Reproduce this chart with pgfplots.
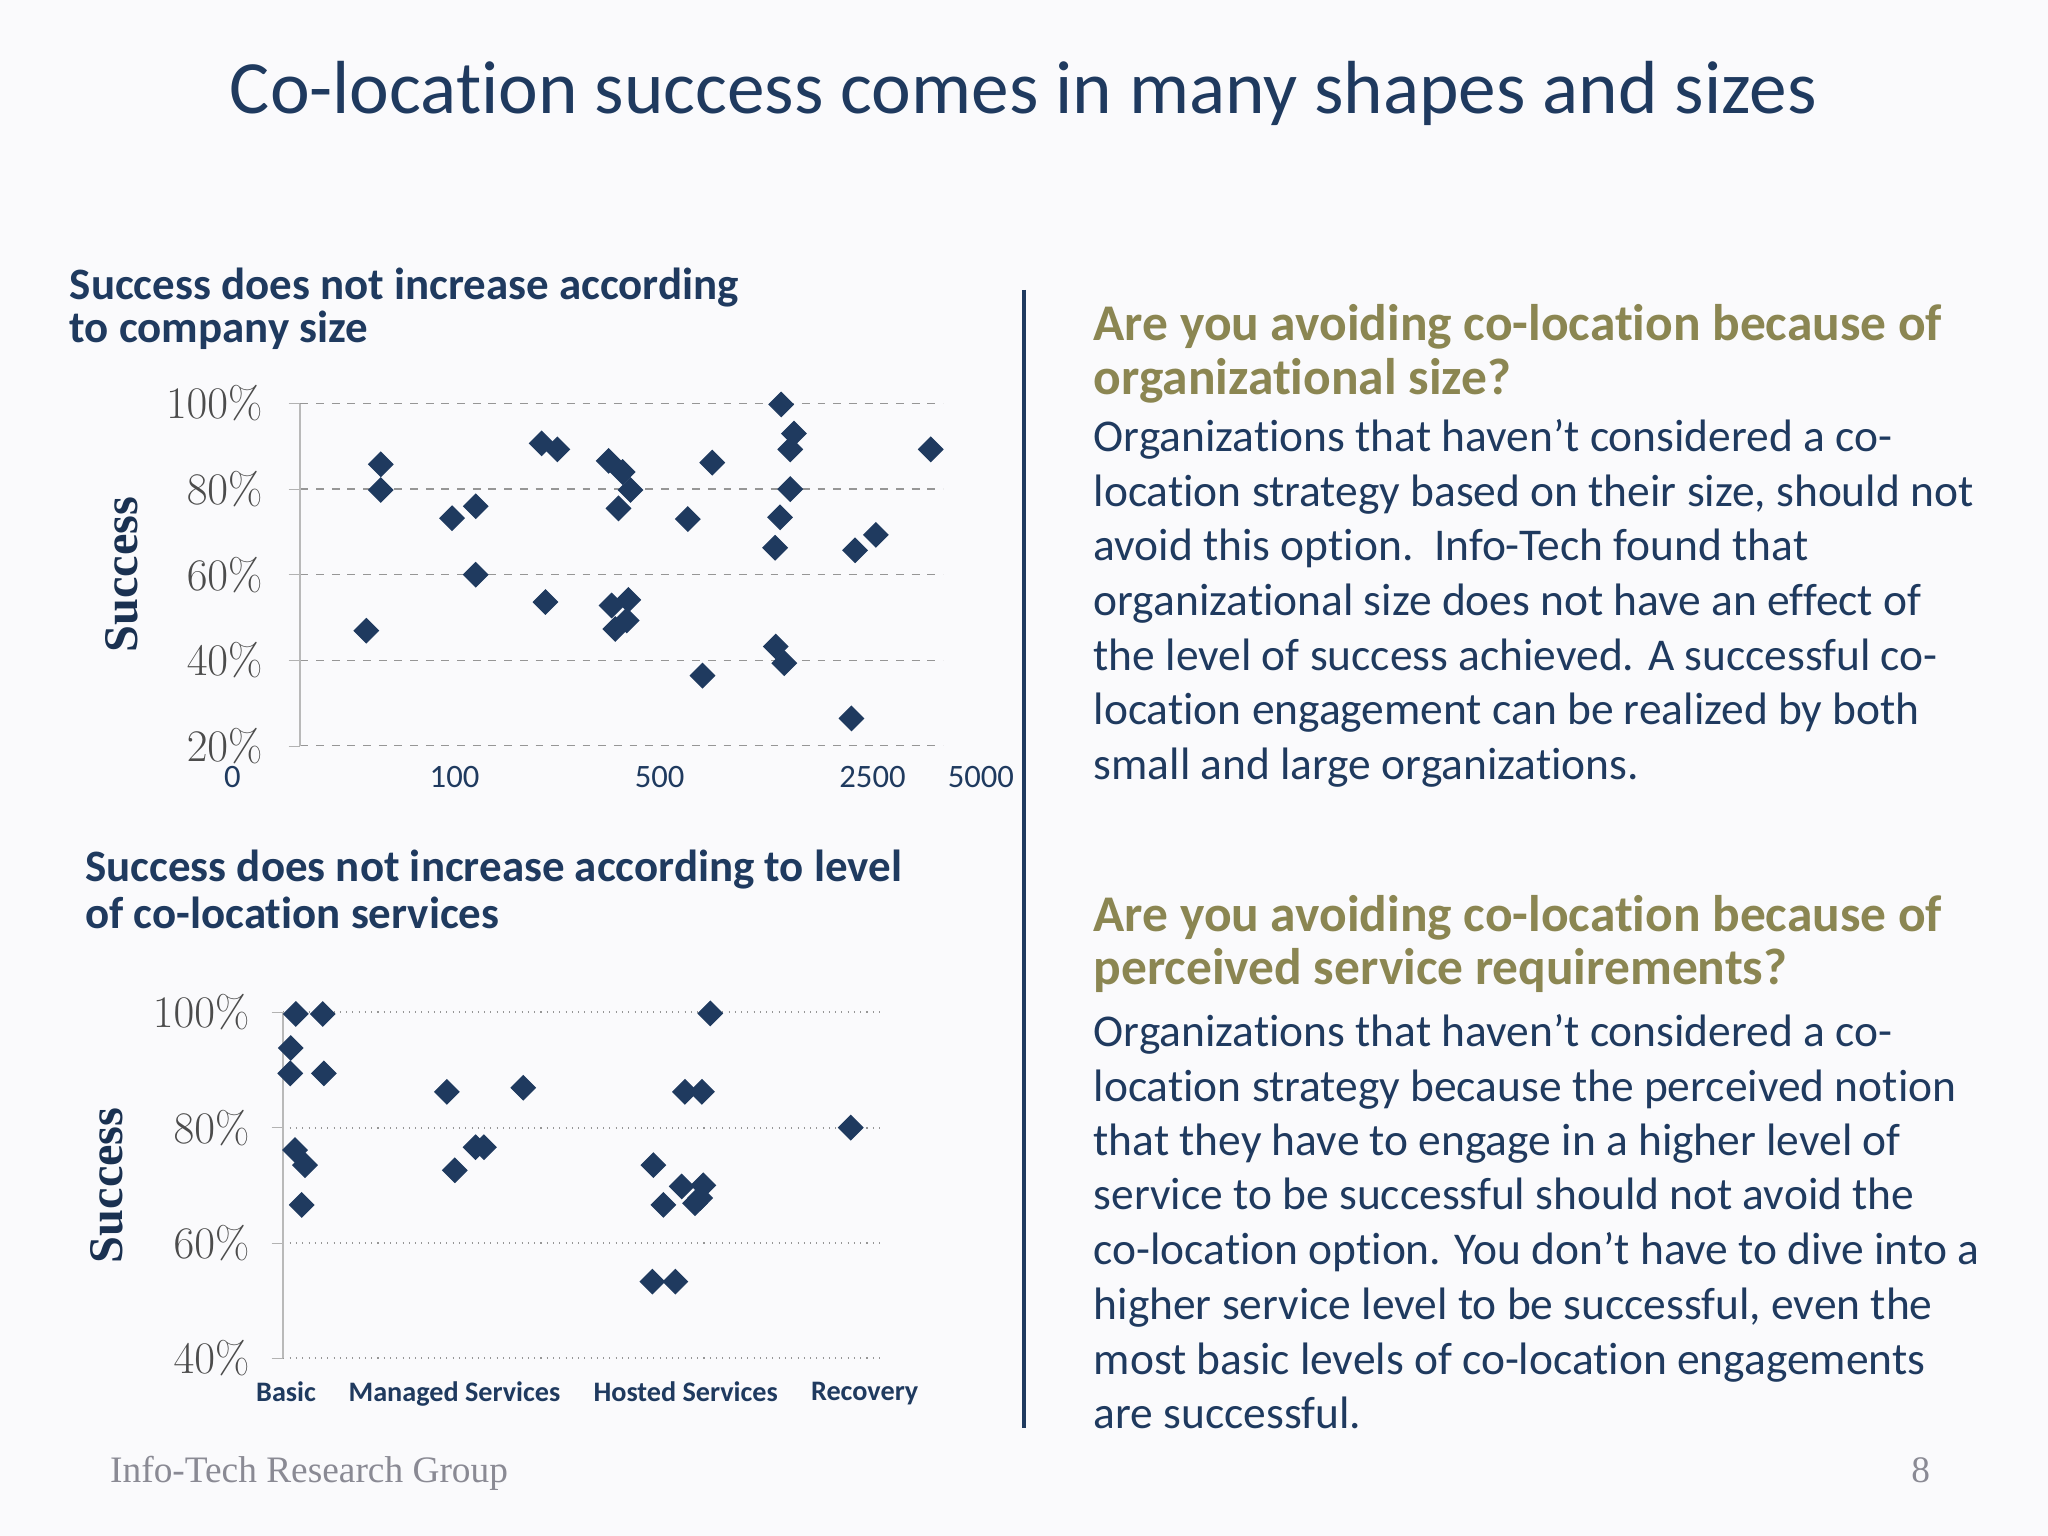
\documentclass[border=0pt]{standalone}
\usepackage{fontspec}
\setsansfont{Carlito}[Ligatures=NoCommon]
\newfontfamily\footfont{Liberation Serif}
\usepackage{pgfplots}
\pgfplotsset{compat=1.18}

\definecolor{navy}{RGB}{31,58,95}
\definecolor{olive}{RGB}{139,134,82}
\definecolor{footgray}{RGB}{138,138,148}
\definecolor{gridgray}{RGB}{150,150,150}

% size of company vs. success
\pgfplotstableread{
size success
56 85.8
56 79.8
50 46.9
98 73.2
118 76.0
118 60.0
198 90.7
224 89.3
204 53.6
335 86.6
374 84.0
398 79.8
362 75.5
343 52.8
391 54.1
353 47.3
386 49.3
624 73.0
756 86.2
700 36.4
1298 99.8
1435 93.0
1394 89.3
1394 80.0
1287 73.4
1238 66.3
1244 43.2
1331 39.3
2320 65.7
2731 69.3
2254 26.4
4201 89.3
}\sizedata

% level of service (position along axis) vs. success
\pgfplotstableread{
pos success
226.5 99.7
247.1 99.7
222.6 93.8
222.2 89.4
248.0 89.4
225.9 76.1
233.5 73.5
231.0 66.6
342.1 86.2
400.6 86.9
348.2 72.6
364.1 76.6
370.5 76.6
543.8 99.8
524.4 86.2
537.4 86.2
500.2 73.5
521.9 69.8
538.5 70.0
507.9 66.6
532.1 66.9
536.0 67.8
499.5 53.3
517.1 53.3
651.3 80.0
}\servicedata

\pgfplotsset{
  slide/.style={
    scale only axis, clip=false,
    axis lines*=left,
    x axis line style={draw=none},
    y axis line style={draw=gray!55, line width=0.8pt},
    ytick style={draw=gray!60},
    tick align=outside, major tick length=4.5pt,
    yticklabel={\pgfmathprintnumber{\tick}\%},
    yticklabel style={font=\fontsize{17}{17}\selectfont, text=black!70, xshift=-5pt},
    ylabel={Success},
    ylabel style={font=\footfont\bfseries\fontsize{18.5}{18.5}\selectfont, text=navy!85!black, anchor=center},
    ymajorgrids,
  },
  dots/.style={only marks, mark=square*, mark size=3.3pt,
    mark options={rotate=45, fill=navy, draw=navy}},
}

\begin{document}
\begin{tikzpicture}[x=0.5pt, y=0.5pt]
\path[fill={rgb,255:red,250;green,250;blue,252}, use as bounding box] (0,0) rectangle (1568,1176);

% title
\node[anchor=base, font=\sffamily\fontsize{28.8}{32}\selectfont, text=navy] at (783.5,1089)
  {Co-location success comes in many shapes and sizes};

% left headings
\begin{scope}[every node/.style={anchor=base west, font=\sffamily\bfseries\fontsize{17.2}{20}\selectfont, text=navy, inner sep=0pt}]
\node at (53,947) {Success does not increase according};
\node at (53,914) {to company size};
\node at (65,501) {Success does not increase according to level};
\node at (65,465) {of co-location services};
\end{scope}

% divider
\draw[navy, line width=1.2pt] (784,954) -- (784,83);

% right column
\begin{scope}[every node/.style={anchor=base west, inner sep=0pt}]
\begin{scope}[every node/.append style={font=\sffamily\bfseries\fontsize{19.7}{22}\selectfont, text=olive}]
\node at (837,915) {Are you avoiding co-location because of};
\node at (837,874) {organizational size?};
\node at (837,463) {Are you avoiding co-location because of};
\node at (837,422) {perceived service requirements?};
\end{scope}
\begin{scope}[every node/.append style={font=\sffamily\fontsize{17.4}{20}\selectfont, text=navy}]
\node at (837,830.2) {Organizations that haven’t considered a co-};
\node at (837,788.4) {location strategy based on their size, should not};
\node at (837,746.6) {avoid this option.\ \ Info-Tech found that};
\node at (837,704.8) {organizational size does not have an effect of};
\node at (837,663.0) {the level of success achieved. A successful co-};
\node at (837,621.2) {location engagement can be realized by both};
\node at (837,579.4) {small and large organizations.};
\node at (837,375) {Organizations that haven’t considered a co-};
\node at (837,333) {location strategy because the perceived notion};
\node at (837,291) {that they have to engage in a higher level of};
\node at (837,250) {service to be successful should not avoid the};
\node at (837,208) {co-location option. You don’t have to dive into a};
\node at (837,166) {higher service level to be successful, even the};
\node at (837,124) {most basic levels of co-location engagements};
\node at (837,82) {are successful.};
\end{scope}
\end{scope}

% footer
\node[anchor=base west, inner sep=0pt, font=\footfont\fontsize{14.3}{16}\selectfont, text=footgray] at (84,40.7) {Info-Tech Research Group};
\node[anchor=base east, inner sep=0pt, font=\footfont\fontsize{14.3}{16}\selectfont, text=footgray] at (1478,40.7) {8};

% top chart: company size
\begin{axis}[slide,
  at={(115pt,302.5pt)}, anchor=south west,
  width=246pt, height=131pt,
  xmode=log, xmin=29.8, xmax=4627, xtick=\empty,
  ymin=20, ymax=100, ytick={20,40,60,80,100},
  yticklabel style={xshift=-1.5pt},
  major grid style={gridgray, dashed, line width=0.5pt},
  ylabel style={at={(axis description cs:-0.278,0.5)}},
]
\addplot[dots] table[x=size, y=success] {\sizedata};
\end{axis}
\begin{scope}[every node/.style={anchor=base, inner sep=0pt, font=\sffamily\fontsize{12.5}{14}\selectfont, text=navy}]
\node at (178,573) {0};
\node at (348,573) {100};
\node at (505,573) {500};
\node at (668,573) {2500};
\node at (751,573) {5000};
\end{scope}

% bottom chart: service level
\begin{axis}[slide,
  at={(108.5pt,68pt)}, anchor=south west,
  width=229pt, height=132.5pt,
  xmin=217, xmax=675,
  xtick={219,348,525,662},
  xticklabels={Basic, Managed Services, Hosted Services, Recovery},
  xtick style={draw=none},
  xticklabel style={font=\sffamily\bfseries\fontsize{10.8}{12}\selectfont, text=navy, yshift=-1pt},
  ymin=40, ymax=100, ytick={40,60,80,100},
  major grid style={gridgray, dotted, line width=0.7pt},
  ylabel style={at={(axis description cs:-0.296,0.5)}},
]
\addplot[dots] table[x=pos, y=success] {\servicedata};
\end{axis}
\end{tikzpicture}
\end{document}
